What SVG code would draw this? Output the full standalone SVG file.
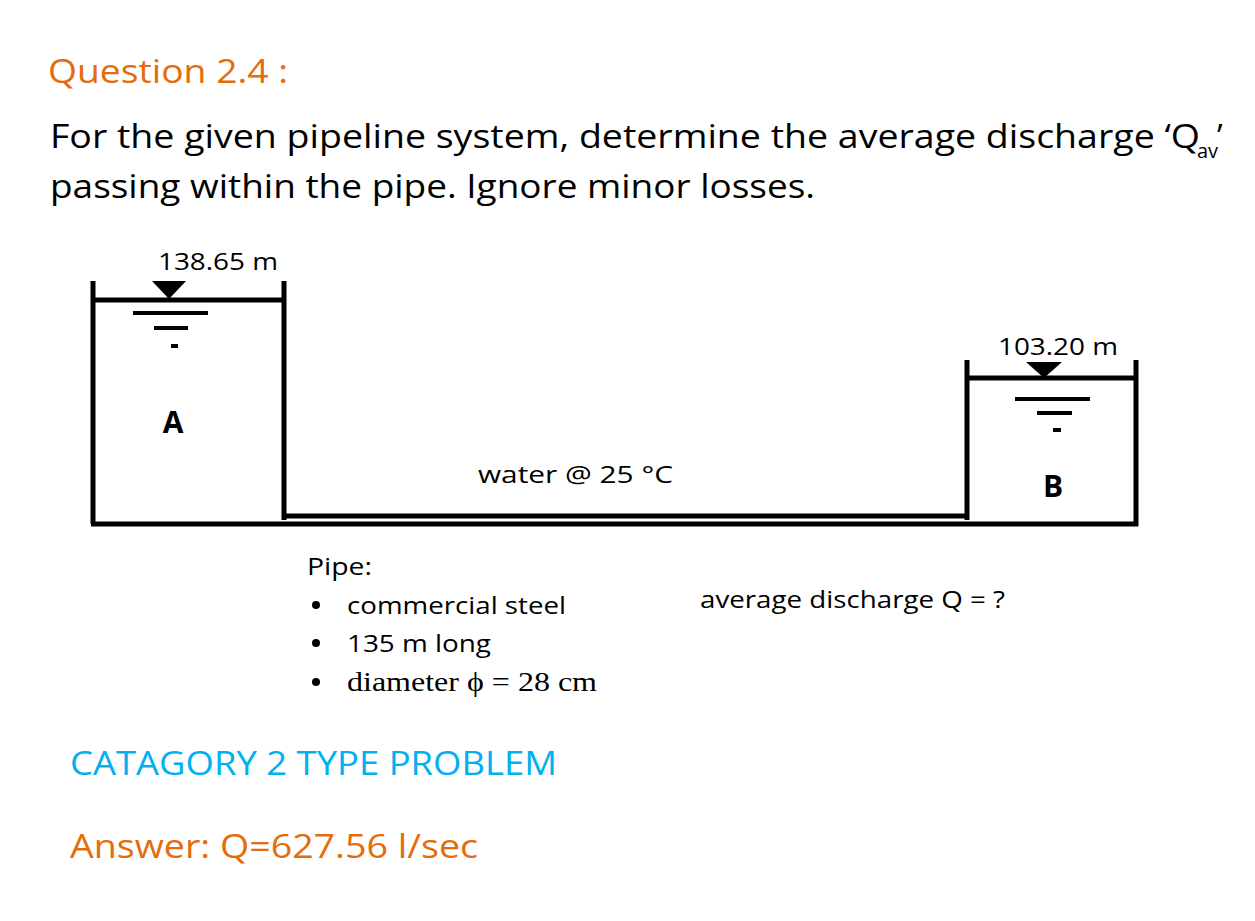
<svg xmlns="http://www.w3.org/2000/svg" width="1255" height="921" viewBox="0 0 1255 921">
<style>
text{font-family:"Open Sans","Liberation Sans",sans-serif}
.o{fill:#E46C0A}
.b{fill:#000}
.c{fill:#00B0F0}
.s{font-family:"Liberation Serif",serif;fill:#000}
.w{stroke:#000;stroke-width:5;fill:none}
.t{stroke:#000;stroke-width:4;fill:none}
</style>
<rect width="1255" height="921" fill="#fff"/>
<text class="o" x="48" y="83" font-size="33" textLength="240" lengthAdjust="spacingAndGlyphs">Question 2.4 :</text>
<text class="b" x="50" y="148" font-size="33" textLength="1150" lengthAdjust="spacingAndGlyphs">For the given pipeline system, determine the average discharge ‘Q</text>
<text class="b" x="1197" y="158" font-size="20">av</text>
<text class="b" x="1217" y="148" font-size="33">’</text>
<text class="b" x="50" y="198" font-size="33" textLength="765" lengthAdjust="spacingAndGlyphs">passing within the pipe. Ignore minor losses.</text>
<g id="tankA">
<path class="w" d="M93,281 V524 M284,281 V520 M93,300 H284"/>
<polygon points="152,281 186,281 169,299"/>
<path class="t" d="M133,313 H208 M154,328 H188 M171,346 H178"/>
<text class="b" x="158" y="270" font-size="24" textLength="120" lengthAdjust="spacingAndGlyphs">138.65 m</text>
<text class="b" x="173" y="433" font-size="30" font-weight="bold" text-anchor="middle">A</text>
</g>
<g id="tankB">
<path class="w" d="M967,360 V520 M1136,360 V526 M967,378 H1136"/>
<polygon points="1026,362 1062,362 1044,378"/>
<path class="t" d="M1015,399 H1090 M1037,413 H1072 M1053,430 H1061"/>
<text class="b" x="998" y="355" font-size="24" textLength="120" lengthAdjust="spacingAndGlyphs">103.20 m</text>
<text class="b" x="1053" y="497" font-size="30" font-weight="bold" text-anchor="middle">B</text>
</g>
<g id="connectors">
<path class="w" d="M284,516 H967 M91,524 H1138"/>
</g>
<text class="b" x="478" y="483" font-size="24" textLength="195" lengthAdjust="spacingAndGlyphs">water  @ 25 °C</text>
<text class="b" x="307" y="575" font-size="24" textLength="65" lengthAdjust="spacingAndGlyphs">Pipe:</text>
<circle cx="316" cy="605" r="4"/><text class="b" x="347" y="614" font-size="24" textLength="219" lengthAdjust="spacingAndGlyphs">commercial steel</text>
<circle cx="316" cy="643" r="4"/><text class="b" x="347" y="652" font-size="24" textLength="144" lengthAdjust="spacingAndGlyphs">135 m long</text>
<circle cx="316" cy="682" r="4"/><text class="s" x="347" y="691" font-size="28" textLength="250" lengthAdjust="spacingAndGlyphs">diameter ϕ = 28 cm</text>
<text class="b" x="700" y="608" font-size="24" textLength="305" lengthAdjust="spacingAndGlyphs">average discharge Q = ?</text>
<text class="c" x="70" y="775" font-size="33" textLength="487" lengthAdjust="spacingAndGlyphs">CATAGORY 2 TYPE PROBLEM</text>
<text class="o" x="70" y="858" font-size="33" textLength="408" lengthAdjust="spacingAndGlyphs">Answer: Q=627.56 l/sec</text>
</svg>
